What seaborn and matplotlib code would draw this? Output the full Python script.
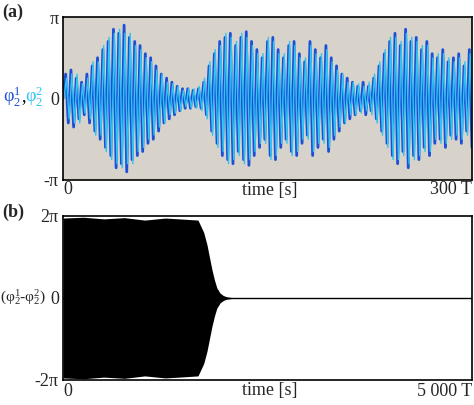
import numpy as np
import matplotlib
matplotlib.use("Agg")
import matplotlib.pyplot as plt
import seaborn as sns

sns.set_style("white")
plt.rcParams['font.family'] = ['Liberation Serif', 'DejaVu Serif']
plt.rcParams['mathtext.fontset'] = 'custom'
plt.rcParams['mathtext.rm'] = 'Liberation Serif'
plt.rcParams['mathtext.it'] = 'Liberation Serif'

PI = np.pi
# panel (a): peak amplitude per oscillation cycle (units of pi)
amp1 = [0.3,0.35,0.25,0.2,0.3,0.4,0.5,0.6,0.7,
        0.85,0.8,0.9,0.75,0.7,0.65,0.55,
        0.5,0.4,0.3,0.25,0.2,0.15,0.12,0.12,0.1,0.12,0.2,
        0.4,0.55,0.7,0.75,0.8,0.65,0.75,0.82,0.7,0.6,
        0.5,0.7,0.75,0.6,0.5,0.65,0.7,0.55,0.45,0.7,0.6,0.5,0.65,0.5,0.4,
        0.3,0.25,0.2,0.15,0.2,0.15,0.25,0.4,0.55,
        0.7,0.8,0.65,0.85,0.7,0.75,0.6,0.7,0.55,0.5,0.6,0.45,0.5,0.55,0.4,0.6]
amp2 = [0.25,0.3,0.3,0.18,0.25,0.45,0.45,0.65,0.75,
        0.8,0.85,0.8,0.8,0.65,0.6,0.5,
        0.45,0.35,0.3,0.2,0.18,0.15,0.1,0.12,0.12,0.15,0.25,
        0.45,0.6,0.65,0.8,0.75,0.7,0.8,0.75,0.65,0.55,
        0.55,0.75,0.7,0.55,0.55,0.7,0.65,0.5,0.5,0.65,0.55,0.55,0.6,0.45,0.35,
        0.3,0.2,0.2,0.18,0.15,0.2,0.3,0.45,0.6,
        0.75,0.75,0.7,0.8,0.75,0.7,0.65,0.65,0.5,0.55,0.55,0.5,0.45,0.5,0.45,0.55]
T_END_A = 300

# panel (b): envelope of the phase difference (units of pi)
t_b = [0, 250, 500, 750, 1000, 1250, 1500, 1650, 1720, 1760, 1790, 1820, 1850, 1880, 1920, 1960, 2000, 2100, 5000]
env_b = [1.95, 1.97, 1.93, 1.96, 1.9, 1.95, 1.92, 1.9, 1.6, 1.3, 1.0, 0.7, 0.45, 0.25, 0.12, 0.06, 0.03, 0.0, 0.0]
T_END_B = 5000

def zigzag(amps, t_end):
    n = len(amps)
    t = np.linspace(0, t_end, 2 * n + 1)
    y = [0.0]
    for a in amps:
        y += [a * PI, -a * PI]
    return t[:len(y)], np.array(y)

fig = plt.figure(figsize=(4.74, 4.05), dpi=100)
ax1 = fig.add_axes([63/474, 1-180/405, 409/474, 163/405])
ax2 = fig.add_axes([63/474, 1-380/405, 409/474, 164/405])

ax1.set_facecolor('#d7d3cb')
t1, y1 = zigzag(amp1, T_END_A)
t2, y2 = zigzag(amp2, T_END_A)
t2 = t2 + 0.6
sns.lineplot(x=t1, y=y1, ax=ax1, color='#1b4fd8', lw=2.0, sort=False)
sns.lineplot(x=t2, y=y2, ax=ax1, color='#2fc4f2', lw=1.0, sort=False)
ax1.set_xlim(0, T_END_A)
ax1.set_ylim(-PI, PI)

ax2.fill_between(t_b, [-e*PI for e in env_b], [e*PI for e in env_b], color='black', lw=0)
sns.lineplot(x=[0, T_END_B], y=[0, 0], ax=ax2, color='black', lw=1)
ax2.set_xlim(0, T_END_B)
ax2.set_ylim(-2*PI, 2*PI)

for ax in (ax1, ax2):
    for s in ax.spines.values():
        s.set_color('black'); s.set_linewidth(1.2); s.set_visible(True)
    ax.set_xticks([]); ax.set_yticks([])
    ax.set_xlabel(''); ax.set_ylabel('')

fs = 13
ax1.set_yticks([-PI, 0, PI]); ax1.set_yticklabels(['-π', '0', 'π'], fontsize=fs)
ax2.set_yticks([-2*PI, 0, 2*PI]); ax2.set_yticklabels(['-2π', '0', '2π'], fontsize=fs)
for ax in (ax1, ax2):
    ax.tick_params(axis='y', length=0, pad=3)

fig.text(2/474, 1-12/405, '(a)', fontsize=13, fontweight='bold', va='center')
fig.text(2/474, 1-212/405, '(b)', fontsize=13, fontweight='bold', va='center')
fig.text(3/474, 1-97/405, r'$\mathrm{φ}_2^1$', color='#1b4fd8', fontsize=fs, va='center')
fig.text(21/474, 1-97/405, ',', color='black', fontsize=fs, va='center')
fig.text(25/474, 1-97/405, r'$\mathrm{φ}_2^2$', color='#2fc4f2', fontsize=fs, va='center')
fig.text(0/474, 1-297/405, r'$(\mathrm{φ}_2^1$-$\mathrm{φ}_2^2)$', fontsize=11, va='center')

for y, right in ((190, '300 T'), (391, '5 000 T')):
    fig.text(63/474, 1-y/405, '0', fontsize=fs, va='center')
    fig.text(270/474, 1-y/405, 'time [s]', fontsize=fs, va='center', ha='center')
    fig.text(472/474, 1-y/405, right, fontsize=fs, va='center', ha='right')

fig.savefig('out.png', dpi=100)
